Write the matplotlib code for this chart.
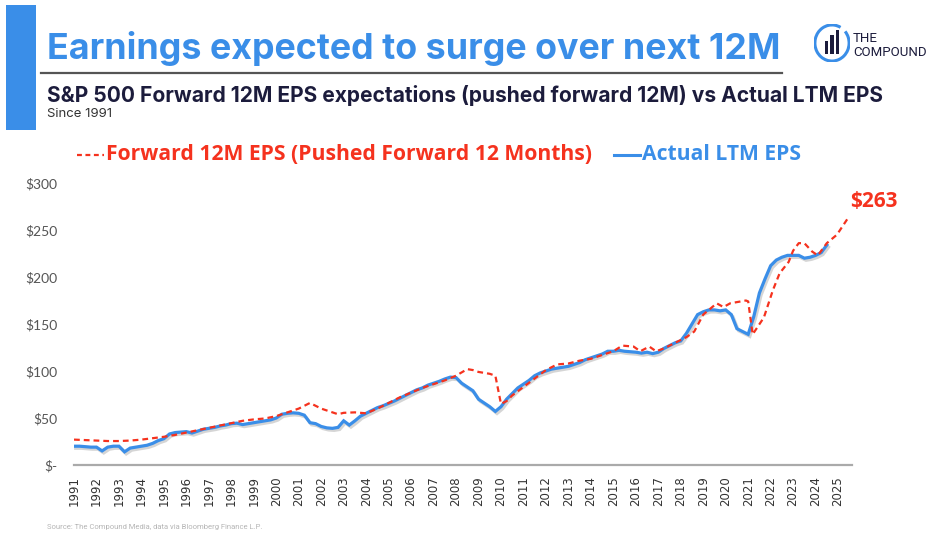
import matplotlib
matplotlib.use("Agg")
import matplotlib.pyplot as plt
import matplotlib.patheffects as pe
from matplotlib.lines import Line2D
from matplotlib.patches import Rectangle, Arc
import numpy as np

# Actual LTM EPS (quarterly)
actual_years = [
    1991.0, 1991.25, 1991.5, 1991.75, 1992.0, 1992.25, 1992.5, 1992.75,
    1993.0, 1993.25, 1993.5, 1993.75, 1994.0, 1994.25, 1994.5, 1994.75,
    1995.0, 1995.25, 1995.5, 1995.75, 1996.0, 1996.25, 1996.5, 1996.75,
    1997.0, 1997.25, 1997.5, 1997.75, 1998.0, 1998.25, 1998.5, 1998.75,
    1999.0, 1999.25, 1999.5, 1999.75, 2000.0, 2000.25, 2000.5, 2000.75,
    2001.0, 2001.25, 2001.5, 2001.75, 2002.0, 2002.25, 2002.5, 2002.75,
    2003.0, 2003.25, 2003.5, 2003.75, 2004.0, 2004.25, 2004.5, 2004.75,
    2005.0, 2005.25, 2005.5, 2005.75, 2006.0, 2006.25, 2006.5, 2006.75,
    2007.0, 2007.25, 2007.5, 2007.75, 2008.0, 2008.25, 2008.5, 2008.75,
    2009.0, 2009.25, 2009.5, 2009.75, 2010.0, 2010.25, 2010.5, 2010.75,
    2011.0, 2011.25, 2011.5, 2011.75, 2012.0, 2012.25, 2012.5, 2012.75,
    2013.0, 2013.25, 2013.5, 2013.75, 2014.0, 2014.25, 2014.5, 2014.75,
    2015.0, 2015.25, 2015.5, 2015.75, 2016.0, 2016.25, 2016.5, 2016.75,
    2017.0, 2017.25, 2017.5, 2017.75, 2018.0, 2018.25, 2018.5, 2018.75,
    2019.0, 2019.25, 2019.5, 2019.75, 2020.0, 2020.25, 2020.5, 2020.75,
    2021.0, 2021.25, 2021.5, 2021.75, 2022.0, 2022.25, 2022.5, 2022.75,
    2023.0, 2023.25, 2023.5, 2023.75, 2024.0, 2024.25, 2024.5,
]
actual_eps = [
    20, 20, 19.5, 19, 19, 15, 19, 20,
    20, 14, 18, 19, 20, 21, 23, 26,
    28, 33, 34.5, 35, 35.5, 34, 36, 38,
    39, 40, 41.5, 42.5, 44, 44.5, 43, 44,
    45, 46, 47, 48, 50, 54, 55, 55.5,
    55, 53, 45, 44, 41, 39.5, 39, 40,
    47, 42.5, 47, 52, 55, 58, 61, 63,
    65.5, 68, 71, 74, 77, 80, 82, 85,
    87, 89, 91.5, 93.5, 93, 87, 83, 79,
    70, 66, 62, 57, 62, 70, 76, 82,
    86, 90, 95, 98, 100, 102, 103, 104,
    105, 107, 109, 112, 114, 116, 118, 121,
    121, 122, 121, 120.5, 120, 119, 120, 118.5,
    120, 124, 127, 130, 132, 140, 150, 160,
    163, 165, 165, 164, 165, 160, 145, 142,
    139, 158, 183, 198, 212, 218, 221, 223,
    223, 223, 220, 221, 223, 226, 234,
]

# Forward 12M EPS, pushed forward 12 months
fwd_years = [
    1991.0, 1991.5, 1992.0, 1992.5, 1993.0, 1993.5, 1994.0, 1994.5,
    1995.0, 1995.5, 1996.0, 1996.5, 1997.0, 1997.5, 1998.0, 1998.5,
    1999.0, 1999.5, 2000.0, 2000.5, 2001.0, 2001.5, 2002.0, 2002.5,
    2002.75, 2003.0, 2003.5, 2004.0, 2004.5, 2005.0, 2005.5, 2006.0,
    2006.5, 2007.0, 2007.5, 2008.0, 2008.5, 2008.75, 2009.0, 2009.5,
    2009.75, 2010.0, 2010.25, 2010.5, 2011.0, 2011.5, 2012.0, 2012.5,
    2013.0, 2013.5, 2014.0, 2014.5, 2015.0, 2015.4, 2015.9, 2016.2,
    2016.6, 2016.9, 2017.25, 2017.75, 2018.25, 2018.6, 2019.0, 2019.6,
    2019.9, 2020.2, 2020.9, 2021.0, 2021.2, 2021.7, 2022.1, 2022.4,
    2022.8, 2023.0, 2023.25, 2023.5, 2023.85, 2024.1, 2024.5, 2024.95,
    2025.45,
]
fwd_eps = [
    27, 26.5, 26, 25.5, 25.5, 26, 27, 28.5,
    30, 32, 34.5, 37, 39.5, 42, 44.5, 47,
    48.5, 49.5, 52, 56, 60, 66, 60, 56,
    54, 55.5, 56, 55, 60, 66, 72, 77,
    82, 86, 90, 95, 102, 101, 99, 97,
    95, 65, 68, 74, 83, 92, 101, 107,
    108, 111, 113, 117, 121, 127, 126, 121,
    126, 121, 124, 130, 136, 142, 160, 172,
    168, 172, 175, 174, 139, 157, 186, 204,
    216, 228, 236, 236, 227, 223, 236, 245,
    263,
]

year_ticks = list(range(1991, 2026))
value_ticks = [0, 50, 100, 150, 200, 250, 300]
value_labels = ['$-', '$50', '$100', '$150', '$200', '$250', '$300']

BLUE = '#3a8ee8'
RED = '#f5321e'
NAVY = '#1c1c3c'

W, H = 940, 546
fig = plt.figure(figsize=(W / 100, H / 100), dpi=100)
fig.set_facecolor('white')


def fx(px):
    return px / W


def fy(py):
    return 1 - py / H


# left accent bar
fig.add_artist(Rectangle((fx(6), fy(130)), fx(36) - fx(6), fy(5) - fy(130),
                         transform=fig.transFigure, color=BLUE, lw=0))

fig.text(fx(47), fy(49), 'Earnings expected to surge over next 12M', fontsize=25.8,
         fontweight='bold', color=BLUE, family='Inter', va='center', ha='left')
fig.add_artist(Line2D([fx(41), fx(782)], [fy(73), fy(73)], color='#555555', lw=1.6,
                      transform=fig.transFigure))
fig.text(fx(47), fy(95), 'S&P 500 Forward 12M EPS expectations (pushed forward 12M) vs Actual LTM EPS',
         fontsize=15.1, fontweight='bold', color=NAVY, family='Inter', va='center', ha='left')
fig.text(fx(47), fy(114), 'Since 1991', fontsize=9.5, color='#333333', family='Inter',
         va='center', ha='left')

# logo
lax = fig.add_axes([fx(814), fy(62), fx(36), fy(24) - fy(62)])
lax.set_xlim(0, 1)
lax.set_ylim(0, 1)
lax.axis('off')
lax.add_patch(Arc((0.5, 0.5), 0.95, 0.95, theta1=60, theta2=400, color=BLUE, lw=2.2))
for bx, bh in zip([0.3, 0.45, 0.6], [0.35, 0.5, 0.65]):
    lax.add_patch(Rectangle((bx, 0.2), 0.1, bh, color=NAVY, lw=0))
fig.text(fx(853), fy(39), 'THE', fontsize=9.5, color=NAVY, family='Roboto', va='center')
fig.text(fx(853), fy(53), 'COMPOUND', fontsize=9.5, color=NAVY, family='Roboto', va='center')

# legend
fig.add_artist(Line2D([fx(77), fx(104)], [fy(155), fy(155)], color=RED, lw=1.6,
                      dashes=(2.2, 1.6), transform=fig.transFigure))
fig.text(fx(106), fy(155), 'Forward 12M EPS (Pushed Forward 12 Months)', fontsize=15.2,
         fontweight='bold', color=RED, family='Open Sans', va='center')
fig.add_artist(Line2D([fx(614), fx(640)], [fy(155), fy(155)], color=BLUE, lw=2.2,
                      transform=fig.transFigure))
fig.text(fx(642), fy(155), 'Actual LTM EPS', fontsize=15.2, fontweight='bold', color=BLUE,
         family='Open Sans', va='center')

# chart
ax = fig.add_axes([fx(74), fy(465), fx(852) - fx(74), fy(183) - fy(465)])
ax.plot(actual_years, actual_eps, color=BLUE, lw=2.3, solid_joinstyle='miter',
        path_effects=[pe.SimpleLineShadow(offset=(1.2, -1.5), shadow_color='#777777', alpha=0.3),
                      pe.Normal()])
ax.plot(fwd_years, fwd_eps, color=RED, lw=1.6, dashes=(2.6, 1.8))
ax.text(fwd_years[-1] + 0.1, fwd_eps[-1] + 6, '$' + str(fwd_eps[-1]), color=RED,
        fontsize=15, fontweight='bold', family='Open Sans', ha='left', va='bottom')

ax.set_xlim(1991, 2025.62)
ax.set_ylim(0, 300)
ax.set_xticks(year_ticks)
ax.set_xticklabels([str(y) for y in year_ticks], rotation=90, fontsize=8.5, color='#333333')
ax.set_yticks(value_ticks)
ax.set_yticklabels(value_labels, fontsize=10, color='#555555', family='Lato')
ax.tick_params(length=0)
ax.tick_params(axis='y', pad=12)
ax.tick_params(axis='x', pad=8)
for s in ['top', 'right', 'left']:
    ax.spines[s].set_visible(False)
ax.spines['bottom'].set_color('#aaaaaa')
ax.spines['bottom'].set_linewidth(1.6)

fig.text(fx(47), fy(527), 'Source: The Compound Media, data via Bloomberg Finance L.P.',
         fontsize=5.5, color='#b5b5b5', family='Roboto', va='center')

fig.savefig('out.png', dpi=100)
